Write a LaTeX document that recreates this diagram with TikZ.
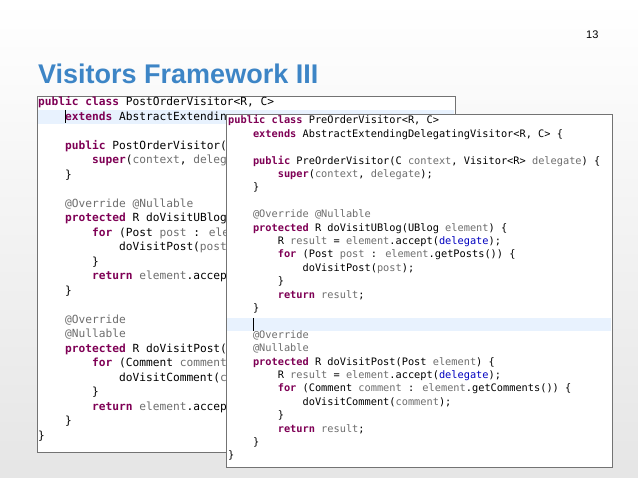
\documentclass[tikz,border=0pt]{standalone}
\usepackage{fontspec}
\setmainfont{Liberation Sans}
\newfontfamily\codefont{DejaVu Sans Mono}
\definecolor{kwc}{RGB}{127,0,85}
\definecolor{vrc}{RGB}{110,110,110}
\definecolor{fdc}{RGB}{0,0,192}
\definecolor{titlec}{RGB}{61,133,198}
\definecolor{hlc}{RGB}{232,242,254}
\newcommand\kw[1]{\textcolor{kwc}{\bfseries #1}}
\newcommand\vr[1]{\textcolor{vrc}{#1}}
\newcommand\fd[1]{\textcolor{fdc}{#1}}
\newcommand\RL[3]{\node[rcode] (r#1) at ({228+#2*6.2},{124+(#1-1)*13.4}) {#3};}
\newcommand\LL[3]{\node[lcode] (l#1) at ({38+#2*6.74},{106+(#1-1)*14.5}) {#3};}
\begin{document}
\begin{tikzpicture}[x=1pt,y=-1pt,
  rcode/.style={anchor=base west,inner sep=0pt,font=\codefont\fontsize{10.3}{12}\selectfont},
  lcode/.style={anchor=base west,inner sep=0pt,font=\codefont\fontsize{11.2}{13}\selectfont},
  panel/.style={draw=black!55,line width=0.8pt,fill=white}]
\shade[top color=white,bottom color=black!10] (0,0) rectangle (638,478);
\useasboundingbox (0,0) rectangle (638,478);
\node[anchor=base east,font=\fontsize{11}{13}\selectfont] (num) at (602,39) {13};
\node[anchor=base west,inner sep=0pt,text=titlec,font=\bfseries\fontsize{27}{32}\selectfont] (title) at (38,84) {Visitors Framework III};
% left panel
\draw[panel] (37,96) rectangle (455,452);
\fill[hlc] (38,110) rectangle (454,124);
\begin{scope}
\clip (37,96) rectangle (455,111) (37,96) rectangle (226,452);
\LL{1}{0}{\kw{public} \kw{class} PostOrderVisitor<R, C>}
\LL{2}{4}{\kw{extends} AbstractExtendingDelegatingVisitor<R, C> \{}
\LL{4}{4}{\kw{public} PostOrderVisitor(C \vr{context}, Visitor<R> \vr{delegate}) \{}
\LL{5}{8}{\kw{super}(\vr{context}, \vr{delegate});}
\LL{6}{4}{\}}
\LL{8}{4}{\vr{@Override @Nullable}}
\LL{9}{4}{\kw{protected} R doVisitUBlog(UBlog \vr{element}) \{}
\LL{10}{8}{\kw{for} (Post \vr{post} : \vr{element}.getPosts()) \{}
\LL{11}{12}{doVisitPost(\vr{post});}
\LL{12}{8}{\}}
\LL{13}{8}{\kw{return} \vr{element}.accept(\fd{delegate});}
\LL{14}{4}{\}}
\LL{16}{4}{\vr{@Override}}
\LL{17}{4}{\vr{@Nullable}}
\LL{18}{4}{\kw{protected} R doVisitPost(Post \vr{element}) \{}
\LL{19}{8}{\kw{for} (Comment \vr{comment} : \vr{element}.getComments()) \{}
\LL{20}{12}{doVisitComment(\vr{comment});}
\LL{21}{8}{\}}
\LL{22}{8}{\kw{return} \vr{element}.accept(\fd{delegate});}
\LL{23}{4}{\}}
\LL{24}{0}{\}}
\draw[line width=0.9pt] (65.5,110) -- (65.5,123);
\end{scope}
% right panel
\draw[panel] (226,114) rectangle (612,467);
\fill[hlc] (227,318) rectangle (611,331);
\RL{1}{0}{\kw{public} \kw{class} PreOrderVisitor<R, C>}
\RL{2}{4}{\kw{extends} AbstractExtendingDelegatingVisitor<R, C> \{}
\RL{4}{4}{\kw{public} PreOrderVisitor(C \vr{context}, Visitor<R> \vr{delegate}) \{}
\RL{5}{8}{\kw{super}(\vr{context}, \vr{delegate});}
\RL{6}{4}{\}}
\RL{8}{4}{\vr{@Override @Nullable}}
\RL{9}{4}{\kw{protected} R doVisitUBlog(UBlog \vr{element}) \{}
\RL{10}{8}{R \vr{result} = \vr{element}.accept(\fd{delegate});}
\RL{11}{8}{\kw{for} (Post \vr{post} : \vr{element}.getPosts()) \{}
\RL{12}{12}{doVisitPost(\vr{post});}
\RL{13}{8}{\}}
\RL{14}{8}{\kw{return} \vr{result};}
\RL{15}{4}{\}}
\RL{17}{4}{\vr{@Override}}
\RL{18}{4}{\vr{@Nullable}}
\RL{19}{4}{\kw{protected} R doVisitPost(Post \vr{element}) \{}
\RL{20}{8}{R \vr{result} = \vr{element}.accept(\fd{delegate});}
\RL{21}{8}{\kw{for} (Comment \vr{comment} : \vr{element}.getComments()) \{}
\RL{22}{12}{doVisitComment(\vr{comment});}
\RL{23}{8}{\}}
\RL{24}{8}{\kw{return} \vr{result};}
\RL{25}{4}{\}}
\RL{26}{0}{\}}
\draw[line width=0.9pt] (253.5,318) -- (253.5,331);
\end{tikzpicture}
\end{document}
